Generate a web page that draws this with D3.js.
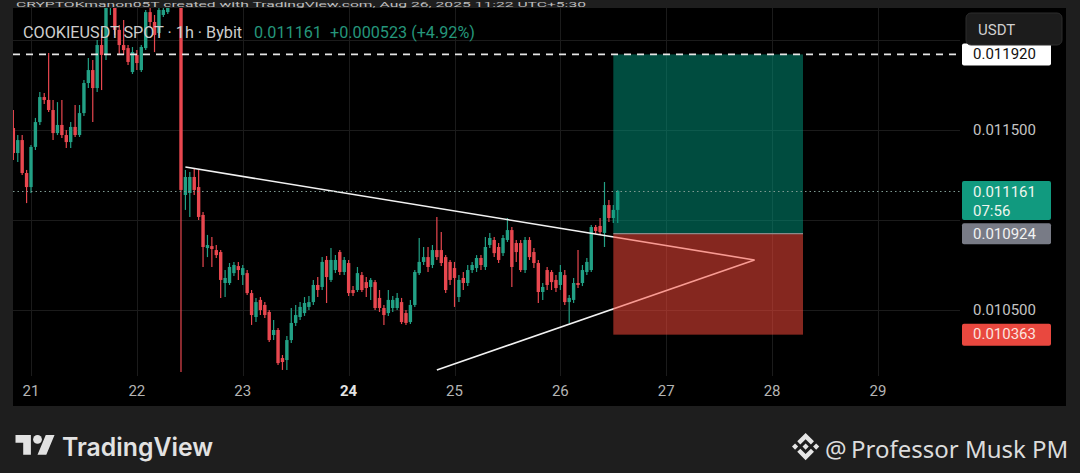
<!DOCTYPE html>
<html><head><meta charset="utf-8">
<script src="https://cdn.jsdelivr.net/npm/d3@7"></script>
<style>html,body{margin:0;padding:0;background:#1e1e1e;overflow:hidden}</style>
</head><body>
<svg id="c" width="1080" height="473"></svg>
<script>
// ---------- data ----------
const headerText = "CRYPTOKmanon05T created with TradingView.com, Aug 26, 2025 11:22 UTC+5:30";
const symbolTitle = "COOKIEUSDT SPOT · 1h · Bybit";
const quoteText = "0.011161  +0.000523 (+4.92%)";
const firstCandle = "2025-08-20T20:00:00Z"; // hourly candles
const open = [
0.011511,0.011372,0.011444,0.011261,0.011183,0.011406,0.011544,0.011683,0.011667,0.011611,
0.011483,0.011528,0.011472,0.011433,0.011517,0.011472,0.011594,0.011761,0.011833,0.011733,
0.011972,0.011917,0.012178,0.012278,0.012056,0.011972,0.011955,0.011822,0.011917,0.011833,
0.011955,0.012155,0.012100,0.012039,0.012139,0.012155,0.012233,0.012305,0.012266,0.011139,
0.011150,0.011239,0.011183,0.011028,0.010844,0.010855,0.010833,0.010822,0.010650,0.010650,
0.010705,0.010744,0.010694,0.010705,0.010594,0.010461,0.010556,0.010528,0.010489,0.010361,
0.010389,0.010233,0.010222,0.010333,0.010428,0.010461,0.010483,0.010517,0.010544,0.010639,
0.010628,0.010778,0.010667,0.010722,0.010822,0.010711,0.010761,0.010611,0.010611,0.010694,
0.010655,0.010628,0.010655,0.010567,0.010511,0.010483,0.010511,0.010511,0.010544,0.010483,
0.010433,0.010528,0.010705,0.010767,0.010794,0.010750,0.010833,0.010833,0.010794,0.010767,
0.010733,0.010572,0.010678,0.010650,0.010722,0.010733,0.010789,0.010739,0.010861,0.010889,
0.010850,0.010816,0.010889,0.010944,0.010872,0.010872,0.010722,0.010889,0.010822,0.010761,
0.010600,0.010722,0.010711,0.010667,0.010639,0.010694,0.010544,0.010556,0.010650,0.010650,
0.010711,0.010722,0.010961,0.010967,0.010928,0.011083,0.011011,0.011056];
const high = [
0.011611,0.011472,0.011472,0.011278,0.011417,0.011567,0.011711,0.011705,0.011928,0.011667,
0.011655,0.011667,0.011500,0.011544,0.011639,0.011639,0.011778,0.011900,0.011889,0.012000,
0.012056,0.012222,0.012333,0.012305,0.012083,0.012111,0.011972,0.011961,0.011944,0.011972,
0.012167,0.012183,0.012139,0.012194,0.012194,0.012222,0.012361,0.012389,0.012333,0.011278,
0.011267,0.011289,0.011278,0.011044,0.010917,0.010905,0.010861,0.010833,0.010722,0.010761,
0.010767,0.010767,0.010750,0.010722,0.010611,0.010567,0.010572,0.010544,0.010500,0.010444,
0.010400,0.010250,0.010355,0.010511,0.010528,0.010544,0.010572,0.010578,0.010667,0.010683,
0.010794,0.010800,0.010844,0.010805,0.010833,0.010794,0.010778,0.010633,0.010739,0.010711,
0.010683,0.010678,0.010667,0.010611,0.010528,0.010611,0.010578,0.010594,0.010567,0.010500,
0.010556,0.010722,0.010900,0.010850,0.010850,0.010861,0.011017,0.010933,0.010805,0.010778,
0.010767,0.010694,0.010711,0.010750,0.010767,0.010805,0.010805,0.010905,0.010928,0.010905,
0.010872,0.010917,0.011011,0.010961,0.010889,0.010889,0.010905,0.010905,0.010844,0.010778,
0.010650,0.010739,0.010722,0.010694,0.010750,0.010722,0.010583,0.010678,0.010833,0.010750,
0.010789,0.010972,0.010972,0.011011,0.011211,0.011111,0.011083,0.011167];
const low = [
0.011333,0.011322,0.011250,0.011094,0.011150,0.011389,0.011528,0.011644,0.011600,0.011444,
0.011472,0.011455,0.011400,0.011400,0.011461,0.011461,0.011578,0.011733,0.011544,0.011711,
0.011722,0.011889,0.012139,0.012028,0.011917,0.011917,0.011861,0.011811,0.011833,0.011822,
0.011944,0.012072,0.011933,0.012022,0.012128,0.012144,0.012205,0.012211,0.010155,0.011056,
0.011017,0.011139,0.011000,0.010739,0.010794,0.010739,0.010789,0.010567,0.010572,0.010639,
0.010689,0.010667,0.010639,0.010583,0.010417,0.010433,0.010472,0.010455,0.010322,0.010333,
0.010194,0.010167,0.010167,0.010317,0.010411,0.010444,0.010467,0.010500,0.010528,0.010572,
0.010611,0.010539,0.010655,0.010705,0.010694,0.010694,0.010578,0.010578,0.010600,0.010600,
0.010572,0.010556,0.010500,0.010489,0.010417,0.010467,0.010489,0.010500,0.010422,0.010417,
0.010422,0.010517,0.010694,0.010750,0.010711,0.010733,0.010778,0.010744,0.010594,0.010639,
0.010517,0.010544,0.010611,0.010633,0.010705,0.010711,0.010722,0.010722,0.010844,0.010794,
0.010761,0.010800,0.010878,0.010628,0.010767,0.010711,0.010705,0.010778,0.010733,0.010539,
0.010556,0.010611,0.010611,0.010600,0.010611,0.010528,0.010428,0.010539,0.010622,0.010633,
0.010694,0.010711,0.010922,0.010917,0.010850,0.010989,0.010983,0.010983];
const close = [
0.011372,0.011444,0.011261,0.011183,0.011406,0.011544,0.011683,0.011667,0.011611,0.011483,
0.011528,0.011472,0.011433,0.011517,0.011472,0.011594,0.011761,0.011833,0.011733,0.011972,
0.011917,0.012178,0.012278,0.012056,0.011972,0.011944,0.011878,0.011933,0.011872,0.011961,
0.012155,0.012100,0.012028,0.012167,0.012167,0.012183,0.012305,0.012266,0.011167,0.011239,
0.011239,0.011167,0.011017,0.010850,0.010861,0.010839,0.010805,0.010667,0.010678,0.010739,
0.010750,0.010722,0.010733,0.010594,0.010472,0.010544,0.010500,0.010472,0.010333,0.010389,
0.010205,0.010211,0.010333,0.010428,0.010472,0.010517,0.010539,0.010544,0.010639,0.010611,
0.010767,0.010683,0.010778,0.010778,0.010711,0.010778,0.010594,0.010594,0.010705,0.010611,
0.010622,0.010667,0.010511,0.010511,0.010472,0.010556,0.010556,0.010567,0.010433,0.010428,
0.010528,0.010711,0.010767,0.010794,0.010739,0.010833,0.010794,0.010761,0.010611,0.010667,
0.010678,0.010667,0.010650,0.010722,0.010750,0.010789,0.010750,0.010850,0.010900,0.010816,
0.010778,0.010900,0.010944,0.010739,0.010822,0.010722,0.010889,0.010794,0.010761,0.010600,
0.010628,0.010639,0.010655,0.010622,0.010711,0.010544,0.010567,0.010650,0.010639,0.010722,
0.010767,0.010961,0.010939,0.010933,0.011083,0.011011,0.011056,0.011161];
const dayTicks = ["2025-08-21","2025-08-22","2025-08-23","2025-08-24","2025-08-25","2025-08-26","2025-08-27","2025-08-28","2025-08-29"];
const dayLabels = ["21","22","23","24","25","26","27","28","29"];
const boldDay = "24";
const gridPrices = [0.0100, 0.0105, 0.0110, 0.0115, 0.0120];
const axisPrices = [0.0115, 0.0105];
const targetPrice = 0.011920, entryPrice = 0.010924, stopPrice = 0.010363, lastPrice = 0.011161;
const countdown = "07:56";
const currency = "USDT";
const positionStart = "2025-08-26T12:00:00Z", positionEnd = "2025-08-28T07:00:00Z";
const upperTrend = [["2025-08-22T11:00:00Z", 0.011294], ["2025-08-27T20:00:00Z", 0.010778]];
const lowerTrend = [["2025-08-24T20:00:00Z", 0.010167], ["2025-08-27T20:00:00Z", 0.010778]];
const brandText = "TradingView";
const authorText = "Professor Musk PM";

// ---------- layout ----------
const panel = {x0: 13, y0: 8, x1: 1066, y1: 406};
const plotRight = 960, timeAxisTop = 376;
const upColor = "#22a085", downColor = "#e8474f";
const font = "Roboto, 'Noto Sans', sans-serif";

const svg = d3.select("#c");
const t0 = new Date(firstCandle).getTime();
const candles = close.map((c, i) => ({t: new Date(t0 + i * 3600e3), o: open[i], h: high[i], l: low[i], c}));

const x = d3.scaleUtc()
  .domain([new Date(dayTicks[0] + "T00:00:00Z"), new Date(dayTicks[dayTicks.length - 1] + "T00:00:00Z")])
  .range([31, 878]);
const y = d3.scaleLinear().domain([0.0105, 0.0115]).range([310, 130]);

// header strip text (thin strip above the panel)
svg.append("text").attr("x", 16).attr("y", 7).attr("fill", "#bdbdbd")
  .attr("font-family", font).attr("font-size", 8)
  .attr("textLength", 570).attr("lengthAdjust", "spacingAndGlyphs").text(headerText);

// panel
svg.append("rect").attr("x", panel.x0).attr("y", panel.y0)
  .attr("width", panel.x1 - panel.x0).attr("height", panel.y1 - panel.y0).attr("fill", "#000");

const defs = svg.append("defs");
defs.append("clipPath").attr("id", "plot").append("rect")
  .attr("x", panel.x0).attr("y", panel.y0).attr("width", plotRight - panel.x0).attr("height", timeAxisTop - panel.y0);

const plot = svg.append("g").attr("clip-path", "url(#plot)");

// grid
plot.append("g").selectAll("line").data(gridPrices).join("line")
  .attr("x1", panel.x0).attr("x2", plotRight)
  .attr("y1", d => Math.round(y(d)) + 0.5).attr("y2", d => Math.round(y(d)) + 0.5)
  .attr("stroke", "#1b1b1b").attr("stroke-width", 1);
plot.append("g").selectAll("line").data(dayTicks).join("line")
  .attr("x1", d => Math.round(x(new Date(d + "T00:00:00Z"))) + 0.5)
  .attr("x2", d => Math.round(x(new Date(d + "T00:00:00Z"))) + 0.5)
  .attr("y1", panel.y0).attr("y2", timeAxisTop)
  .attr("stroke", "#1b1b1b").attr("stroke-width", 1);

// candles
const cg = plot.append("g");
cg.selectAll("line").data(candles).join("line")
  .attr("x1", d => x(d.t)).attr("x2", d => x(d.t))
  .attr("y1", d => y(d.h)).attr("y2", d => y(d.l))
  .attr("stroke", d => d.c >= d.o ? upColor : downColor).attr("stroke-width", 1.2);
cg.selectAll("rect").data(candles).join("rect")
  .attr("x", d => x(d.t) - 1.7).attr("width", 3.4)
  .attr("y", d => y(Math.max(d.o, d.c)))
  .attr("height", d => Math.max(1, Math.abs(y(d.o) - y(d.c))))
  .attr("fill", d => d.c >= d.o ? upColor : downColor);

// trend lines
const line = d3.line().x(d => x(new Date(d[0]))).y(d => y(d[1]));
[upperTrend, lowerTrend].forEach(seg => {
  plot.append("path").attr("d", line(seg)).attr("fill", "none")
    .attr("stroke", "#f2f2f2").attr("stroke-width", 1.6);
});

// long position box
const bx0 = x(new Date(positionStart)), bx1 = x(new Date(positionEnd));
plot.append("rect").attr("x", bx0).attr("width", bx1 - bx0)
  .attr("y", y(targetPrice)).attr("height", y(entryPrice) - y(targetPrice))
  .attr("fill", "rgb(0,152,126)").attr("fill-opacity", 0.5);
plot.append("rect").attr("x", bx0).attr("width", bx1 - bx0)
  .attr("y", y(entryPrice)).attr("height", y(stopPrice) - y(entryPrice))
  .attr("fill", "rgb(255,74,60)").attr("fill-opacity", 0.52);
plot.append("line").attr("x1", bx0).attr("x2", bx1)
  .attr("y1", y(entryPrice)).attr("y2", y(entryPrice))
  .attr("stroke", "#8a8a8a").attr("stroke-width", 1.2);

// horizontal lines
plot.append("line").attr("x1", panel.x0).attr("x2", plotRight - 4)
  .attr("y1", y(targetPrice)).attr("y2", y(targetPrice))
  .attr("stroke", "#e6e6e6").attr("stroke-width", 1.6).attr("stroke-dasharray", "7,6");
plot.append("line").attr("x1", panel.x0).attr("x2", plotRight)
  .attr("y1", Math.round(y(lastPrice)) + 0.5).attr("y2", Math.round(y(lastPrice)) + 0.5)
  .attr("stroke", "#7f9a92").attr("stroke-width", 1).attr("stroke-dasharray", "1.5,3");

// title legend
svg.append("text").attr("x", 23).attr("y", 37.5).attr("fill", "#cdcdcd")
  .attr("font-family", font).attr("font-size", 16.2).text(symbolTitle);
svg.append("text").attr("x", 254).attr("y", 37.5).attr("fill", "#25967b")
  .attr("font-family", font).attr("font-size", 16.2).attr("xml:space", "preserve").text(quoteText);

// price axis
const fmt = d3.format(".6f");
svg.append("g").selectAll("text").data(axisPrices).join("text")
  .attr("x", 973).attr("y", d => y(d)).attr("dy", "0.36em")
  .attr("fill", "#c4c4c4").attr("font-family", font).attr("font-size", 15).text(d => fmt(d));

function priceLabel(bg, fg, top, bottom, lines) {
  svg.append("rect").attr("x", 962).attr("y", top).attr("width", 89).attr("height", bottom - top)
    .attr("rx", 2).attr("fill", bg);
  lines.forEach((t, k) => {
    svg.append("text").attr("x", 973).attr("y", top + 15.5 + k * 19).attr("fill", fg)
      .attr("font-family", font).attr("font-size", 15).text(t);
  });
}
priceLabel("#ffffff", "#111", y(targetPrice) - 11, y(targetPrice) + 11, [fmt(targetPrice)]);
priceLabel("#119a7f", "#eef5ee", y(lastPrice) - 10, y(lastPrice) + 29, [fmt(lastPrice), countdown]);
priceLabel("#787b86", "#f2f2f2", y(entryPrice) - 10.5, y(entryPrice) + 10.5, [fmt(entryPrice)]);
priceLabel("#e9483f", "#fbe3df", y(stopPrice) - 11, y(stopPrice) + 11, [fmt(stopPrice)]);

// currency button
svg.append("rect").attr("x", 966).attr("y", 13).attr("width", 96).attr("height", 32)
  .attr("rx", 5).attr("fill", "#1c1c1c").attr("stroke", "#2c2c2c");
svg.append("text").attr("x", 978).attr("y", 35).attr("fill", "#d0d0d0")
  .attr("font-family", font).attr("font-size", 15).text(currency);

// time axis
svg.append("g").selectAll("text").data(dayTicks).join("text")
  .attr("x", d => x(new Date(d + "T00:00:00Z"))).attr("y", 396)
  .attr("text-anchor", "middle").attr("font-family", font).attr("font-size", 15)
  .attr("font-weight", (d, i) => dayLabels[i] === boldDay ? 700 : 400)
  .attr("fill", (d, i) => dayLabels[i] === boldDay ? "#e4e4e4" : "#b4b4b4")
  .text((d, i) => dayLabels[i]);

// TradingView watermark
const tv = svg.append("g").attr("transform", "translate(15.5,430.6) scale(1.1)").attr("fill", "#e2e2e2");
tv.append("path").attr("d", "M14 22H7V11H0V4h14v18zM28 22h-8l7.5-18h8L28 22z");
tv.append("circle").attr("cx", 20).attr("cy", 8).attr("r", 4);
svg.append("text").attr("x", 62).attr("y", 456).attr("fill", "#e2e2e2")
  .attr("font-family", "Inter, sans-serif").attr("font-weight", 600).attr("font-size", 25)
  .attr("textLength", 151).attr("lengthAdjust", "spacingAndGlyphs").text(brandText);

// author watermark with Binance mark
const bn = svg.append("g").attr("transform", "translate(792,433) scale(0.215)").attr("fill", "#e6e6e6");
["M38.73 53.2l24.59-24.58 24.6 24.6 14.3-14.31L63.32 0 24.42 38.9l14.31 14.3z",
 "M0 63.31l14.3-14.31 14.31 14.31-14.31 14.3z",
 "M38.73 73.41l24.59 24.59 24.6-24.6 14.31 14.29-38.9 38.91-38.91-38.88-.02-.02z",
 "M98 63.31l14.3-14.31 14.31 14.3-14.31 14.32z",
 "M77.83 63.3L63.32 48.78 52.59 59.51l-1.24 1.23-2.54 2.54 14.51 14.5 14.51-14.47z"]
 .forEach(p => bn.append("path").attr("d", p));
svg.append("text").attr("x", 825).attr("y", 458).attr("fill", "#dcdcdc")
  .attr("font-family", "'Noto Sans', 'Open Sans', sans-serif").attr("font-size", 24).text("@");
svg.append("text").attr("x", 851).attr("y", 458).attr("fill", "#dcdcdc")
  .attr("font-family", "'Noto Sans', 'Open Sans', sans-serif").attr("font-size", 24).text(authorText);
</script>
</body></html>
